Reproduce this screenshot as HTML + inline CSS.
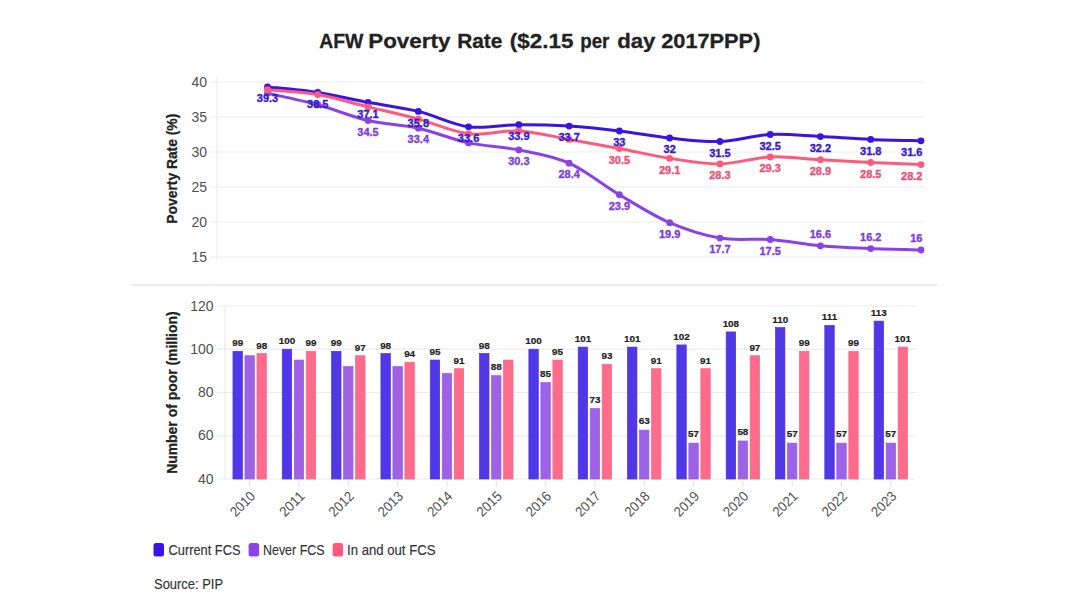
<!DOCTYPE html><html><head><meta charset="utf-8"><style>html,body{margin:0;padding:0;background:#fff;width:1080px;height:614px;overflow:hidden}svg{display:block}text{font-family:"Liberation Sans", sans-serif}</style></head><body>
<svg width="1080" height="614" viewBox="0 0 1080 614">
<rect width="1080" height="614" fill="#fff"/>
<g>
<text x="319.2" y="47.5" font-size="20.5" font-weight="bold" fill="#222" stroke="#222" stroke-width="0.3" textLength="44.2" lengthAdjust="spacingAndGlyphs">AFW</text>
<text x="368.2" y="47.5" font-size="20.5" font-weight="bold" fill="#222" stroke="#222" stroke-width="0.3" textLength="82.2" lengthAdjust="spacingAndGlyphs">Poverty</text>
<text x="457.2" y="47.5" font-size="20.5" font-weight="bold" fill="#222" stroke="#222" stroke-width="0.3" textLength="45.2" lengthAdjust="spacingAndGlyphs">Rate</text>
<text x="509.7" y="47.5" font-size="20.5" font-weight="bold" fill="#222" stroke="#222" stroke-width="0.3" textLength="63.7" lengthAdjust="spacingAndGlyphs">($2.15</text>
<text x="580.2" y="47.5" font-size="20.5" font-weight="bold" fill="#222" stroke="#222" stroke-width="0.3" textLength="29.2" lengthAdjust="spacingAndGlyphs">per</text>
<text x="617.2" y="47.5" font-size="20.5" font-weight="bold" fill="#222" stroke="#222" stroke-width="0.3" textLength="38.2" lengthAdjust="spacingAndGlyphs">day</text>
<text x="661.2" y="47.5" font-size="20.5" font-weight="bold" fill="#222" stroke="#222" stroke-width="0.3" textLength="99.2" lengthAdjust="spacingAndGlyphs">2017PPP)</text>
<line x1="210" y1="82.0" x2="924" y2="82.0" stroke="#ebebeb" stroke-width="1.2"/>
<text x="207" y="87.0" text-anchor="end" font-size="14" fill="#505050">40</text>
<line x1="210" y1="117.0" x2="924" y2="117.0" stroke="#ebebeb" stroke-width="1.2"/>
<text x="207" y="122.0" text-anchor="end" font-size="14" fill="#505050">35</text>
<line x1="210" y1="152.0" x2="924" y2="152.0" stroke="#ebebeb" stroke-width="1.2"/>
<text x="207" y="157.0" text-anchor="end" font-size="14" fill="#505050">30</text>
<line x1="210" y1="187.0" x2="924" y2="187.0" stroke="#ebebeb" stroke-width="1.2"/>
<text x="207" y="192.0" text-anchor="end" font-size="14" fill="#505050">25</text>
<line x1="210" y1="222.0" x2="924" y2="222.0" stroke="#ebebeb" stroke-width="1.2"/>
<text x="207" y="227.0" text-anchor="end" font-size="14" fill="#505050">20</text>
<line x1="210" y1="257.0" x2="924" y2="257.0" stroke="#ebebeb" stroke-width="1.2"/>
<text x="207" y="262.0" text-anchor="end" font-size="14" fill="#505050">15</text>
<line x1="217" y1="77.5" x2="217" y2="260" stroke="#ebebeb" stroke-width="1.2"/>
<text transform="translate(177.4,168.7) rotate(-90)" text-anchor="middle" font-size="14" font-weight="bold" fill="#222" stroke="#222" stroke-width="0.25" textLength="110" lengthAdjust="spacingAndGlyphs">Poverty Rate (%)</text>
<line x1="131" y1="285" x2="937" y2="285" stroke="#e6e6e6" stroke-width="1.5"/>
<path d="M267.50,86.90 C275.88,87.83 301.01,89.93 317.77,92.50 C334.53,95.07 351.28,99.15 368.04,102.30 C384.79,105.45 401.55,107.32 418.31,111.40 C435.06,115.48 451.82,124.58 468.58,126.80 C485.33,129.02 502.09,124.82 518.85,124.70 C535.60,124.58 552.36,125.05 569.12,126.10 C585.87,127.15 602.63,129.02 619.38,131.00 C636.14,132.98 652.90,136.25 669.65,138.00 C686.41,139.75 703.17,142.08 719.92,141.50 C736.68,140.92 753.44,135.32 770.19,134.50 C786.95,133.68 803.71,135.78 820.46,136.60 C837.22,137.42 853.97,138.70 870.73,139.40 C887.49,140.10 912.62,140.57 921.00,140.80" fill="none" stroke="#3a14e6" stroke-width="3" stroke-linecap="round"/>
<circle cx="267.50" cy="86.90" r="3.4" fill="#3a14e6"/>
<circle cx="317.77" cy="92.50" r="3.4" fill="#3a14e6"/>
<circle cx="368.04" cy="102.30" r="3.4" fill="#3a14e6"/>
<circle cx="418.31" cy="111.40" r="3.4" fill="#3a14e6"/>
<circle cx="468.58" cy="126.80" r="3.4" fill="#3a14e6"/>
<circle cx="518.85" cy="124.70" r="3.4" fill="#3a14e6"/>
<circle cx="569.12" cy="126.10" r="3.4" fill="#3a14e6"/>
<circle cx="619.38" cy="131.00" r="3.4" fill="#3a14e6"/>
<circle cx="669.65" cy="138.00" r="3.4" fill="#3a14e6"/>
<circle cx="719.92" cy="141.50" r="3.4" fill="#3a14e6"/>
<circle cx="770.19" cy="134.50" r="3.4" fill="#3a14e6"/>
<circle cx="820.46" cy="136.60" r="3.4" fill="#3a14e6"/>
<circle cx="870.73" cy="139.40" r="3.4" fill="#3a14e6"/>
<circle cx="921.00" cy="140.80" r="3.4" fill="#3a14e6"/>
<path d="M267.50,93.20 C275.88,95.13 301.01,100.20 317.77,104.75 C334.53,109.30 351.28,116.59 368.04,120.50 C384.79,124.41 401.55,124.47 418.31,128.20 C435.06,131.93 451.82,139.28 468.58,142.90 C485.33,146.52 502.09,146.52 518.85,149.90 C535.60,153.28 552.36,155.73 569.12,163.20 C585.87,170.67 602.63,184.78 619.38,194.70 C636.14,204.62 652.90,215.47 669.65,222.70 C686.41,229.93 703.17,235.30 719.92,238.10 C736.68,240.90 753.44,238.22 770.19,239.50 C786.95,240.78 803.71,244.28 820.46,245.80 C837.22,247.32 853.97,247.90 870.73,248.60 C887.49,249.30 912.62,249.77 921.00,250.00" fill="none" stroke="#8a42e6" stroke-width="3" stroke-linecap="round"/>
<circle cx="267.50" cy="93.20" r="3.4" fill="#8a42e6"/>
<circle cx="317.77" cy="104.75" r="3.4" fill="#8a42e6"/>
<circle cx="368.04" cy="120.50" r="3.4" fill="#8a42e6"/>
<circle cx="418.31" cy="128.20" r="3.4" fill="#8a42e6"/>
<circle cx="468.58" cy="142.90" r="3.4" fill="#8a42e6"/>
<circle cx="518.85" cy="149.90" r="3.4" fill="#8a42e6"/>
<circle cx="569.12" cy="163.20" r="3.4" fill="#8a42e6"/>
<circle cx="619.38" cy="194.70" r="3.4" fill="#8a42e6"/>
<circle cx="669.65" cy="222.70" r="3.4" fill="#8a42e6"/>
<circle cx="719.92" cy="238.10" r="3.4" fill="#8a42e6"/>
<circle cx="770.19" cy="239.50" r="3.4" fill="#8a42e6"/>
<circle cx="820.46" cy="245.80" r="3.4" fill="#8a42e6"/>
<circle cx="870.73" cy="248.60" r="3.4" fill="#8a42e6"/>
<circle cx="921.00" cy="250.00" r="3.4" fill="#8a42e6"/>
<path d="M267.50,89.70 C275.88,90.52 301.01,91.74 317.77,94.60 C334.53,97.46 351.28,102.77 368.04,106.85 C384.79,110.93 401.55,114.61 418.31,119.10 C435.06,123.59 451.82,131.82 468.58,133.80 C485.33,135.78 502.09,130.07 518.85,131.00 C535.60,131.93 552.36,136.48 569.12,139.40 C585.87,142.32 602.63,145.35 619.38,148.50 C636.14,151.65 652.90,155.73 669.65,158.30 C686.41,160.87 703.17,164.13 719.92,163.90 C736.68,163.67 753.44,157.60 770.19,156.90 C786.95,156.20 803.71,158.77 820.46,159.70 C837.22,160.63 853.97,161.68 870.73,162.50 C887.49,163.32 912.62,164.25 921.00,164.60" fill="none" stroke="#ff5a7e" stroke-width="3" stroke-linecap="round"/>
<circle cx="267.50" cy="89.70" r="3.4" fill="#ff5a7e"/>
<circle cx="317.77" cy="94.60" r="3.4" fill="#ff5a7e"/>
<circle cx="368.04" cy="106.85" r="3.4" fill="#ff5a7e"/>
<circle cx="418.31" cy="119.10" r="3.4" fill="#ff5a7e"/>
<circle cx="468.58" cy="133.80" r="3.4" fill="#ff5a7e"/>
<circle cx="518.85" cy="131.00" r="3.4" fill="#ff5a7e"/>
<circle cx="569.12" cy="139.40" r="3.4" fill="#ff5a7e"/>
<circle cx="619.38" cy="148.50" r="3.4" fill="#ff5a7e"/>
<circle cx="669.65" cy="158.30" r="3.4" fill="#ff5a7e"/>
<circle cx="719.92" cy="163.90" r="3.4" fill="#ff5a7e"/>
<circle cx="770.19" cy="156.90" r="3.4" fill="#ff5a7e"/>
<circle cx="820.46" cy="159.70" r="3.4" fill="#ff5a7e"/>
<circle cx="870.73" cy="162.50" r="3.4" fill="#ff5a7e"/>
<circle cx="921.00" cy="164.60" r="3.4" fill="#ff5a7e"/>
<text x="267.50" y="102.10" text-anchor="middle" font-size="11" font-weight="bold" fill="#3418d2" stroke="#3418d2" stroke-width="0.35">39.3</text>
<text x="317.77" y="107.70" text-anchor="middle" font-size="11" font-weight="bold" fill="#3418d2" stroke="#3418d2" stroke-width="0.35">38.5</text>
<text x="368.04" y="117.50" text-anchor="middle" font-size="11" font-weight="bold" fill="#3418d2" stroke="#3418d2" stroke-width="0.35">37.1</text>
<text x="418.31" y="126.60" text-anchor="middle" font-size="11" font-weight="bold" fill="#3418d2" stroke="#3418d2" stroke-width="0.35">35.8</text>
<text x="468.58" y="142.00" text-anchor="middle" font-size="11" font-weight="bold" fill="#3418d2" stroke="#3418d2" stroke-width="0.35">33.6</text>
<text x="518.85" y="139.90" text-anchor="middle" font-size="11" font-weight="bold" fill="#3418d2" stroke="#3418d2" stroke-width="0.35">33.9</text>
<text x="569.12" y="141.30" text-anchor="middle" font-size="11" font-weight="bold" fill="#3418d2" stroke="#3418d2" stroke-width="0.35">33.7</text>
<text x="619.38" y="146.20" text-anchor="middle" font-size="11" font-weight="bold" fill="#3418d2" stroke="#3418d2" stroke-width="0.35">33</text>
<text x="669.65" y="153.20" text-anchor="middle" font-size="11" font-weight="bold" fill="#3418d2" stroke="#3418d2" stroke-width="0.35">32</text>
<text x="719.92" y="156.70" text-anchor="middle" font-size="11" font-weight="bold" fill="#3418d2" stroke="#3418d2" stroke-width="0.35">31.5</text>
<text x="770.19" y="149.70" text-anchor="middle" font-size="11" font-weight="bold" fill="#3418d2" stroke="#3418d2" stroke-width="0.35">32.5</text>
<text x="820.46" y="151.80" text-anchor="middle" font-size="11" font-weight="bold" fill="#3418d2" stroke="#3418d2" stroke-width="0.35">32.2</text>
<text x="870.73" y="154.60" text-anchor="middle" font-size="11" font-weight="bold" fill="#3418d2" stroke="#3418d2" stroke-width="0.35">31.8</text>
<text x="922.50" y="156.00" text-anchor="end" font-size="11" font-weight="bold" fill="#3418d2" stroke="#3418d2" stroke-width="0.35">31.6</text>
<text x="368.04" y="135.70" text-anchor="middle" font-size="11" font-weight="bold" fill="#7e3dd8" stroke="#7e3dd8" stroke-width="0.35">34.5</text>
<text x="418.31" y="143.40" text-anchor="middle" font-size="11" font-weight="bold" fill="#7e3dd8" stroke="#7e3dd8" stroke-width="0.35">33.4</text>
<text x="518.85" y="165.10" text-anchor="middle" font-size="11" font-weight="bold" fill="#7e3dd8" stroke="#7e3dd8" stroke-width="0.35">30.3</text>
<text x="569.12" y="178.40" text-anchor="middle" font-size="11" font-weight="bold" fill="#7e3dd8" stroke="#7e3dd8" stroke-width="0.35">28.4</text>
<text x="619.38" y="209.90" text-anchor="middle" font-size="11" font-weight="bold" fill="#7e3dd8" stroke="#7e3dd8" stroke-width="0.35">23.9</text>
<text x="669.65" y="237.90" text-anchor="middle" font-size="11" font-weight="bold" fill="#7e3dd8" stroke="#7e3dd8" stroke-width="0.35">19.9</text>
<text x="719.92" y="253.30" text-anchor="middle" font-size="11" font-weight="bold" fill="#7e3dd8" stroke="#7e3dd8" stroke-width="0.35">17.7</text>
<text x="770.19" y="254.70" text-anchor="middle" font-size="11" font-weight="bold" fill="#7e3dd8" stroke="#7e3dd8" stroke-width="0.35">17.5</text>
<text x="820.46" y="237.80" text-anchor="middle" font-size="11" font-weight="bold" fill="#7e3dd8" stroke="#7e3dd8" stroke-width="0.35">16.6</text>
<text x="870.73" y="240.60" text-anchor="middle" font-size="11" font-weight="bold" fill="#7e3dd8" stroke="#7e3dd8" stroke-width="0.35">16.2</text>
<text x="922.50" y="242.00" text-anchor="end" font-size="11" font-weight="bold" fill="#7e3dd8" stroke="#7e3dd8" stroke-width="0.35">16</text>
<text x="619.38" y="163.70" text-anchor="middle" font-size="11" font-weight="bold" fill="#ec4f76" stroke="#ec4f76" stroke-width="0.35">30.5</text>
<text x="669.65" y="173.50" text-anchor="middle" font-size="11" font-weight="bold" fill="#ec4f76" stroke="#ec4f76" stroke-width="0.35">29.1</text>
<text x="719.92" y="179.10" text-anchor="middle" font-size="11" font-weight="bold" fill="#ec4f76" stroke="#ec4f76" stroke-width="0.35">28.3</text>
<text x="770.19" y="172.10" text-anchor="middle" font-size="11" font-weight="bold" fill="#ec4f76" stroke="#ec4f76" stroke-width="0.35">29.3</text>
<text x="820.46" y="174.90" text-anchor="middle" font-size="11" font-weight="bold" fill="#ec4f76" stroke="#ec4f76" stroke-width="0.35">28.9</text>
<text x="870.73" y="177.70" text-anchor="middle" font-size="11" font-weight="bold" fill="#ec4f76" stroke="#ec4f76" stroke-width="0.35">28.5</text>
<text x="922.50" y="179.80" text-anchor="end" font-size="11" font-weight="bold" fill="#ec4f76" stroke="#ec4f76" stroke-width="0.35">28.2</text>
<line x1="217" y1="306.0" x2="915.5" y2="306.0" stroke="#ebebeb" stroke-width="1.2"/>
<text x="213.5" y="310.5" text-anchor="end" font-size="14" fill="#505050">120</text>
<line x1="217" y1="349.2" x2="915.5" y2="349.2" stroke="#ebebeb" stroke-width="1.2"/>
<text x="213.5" y="353.8" text-anchor="end" font-size="14" fill="#505050">100</text>
<line x1="217" y1="392.5" x2="915.5" y2="392.5" stroke="#ebebeb" stroke-width="1.2"/>
<text x="213.5" y="397.0" text-anchor="end" font-size="14" fill="#505050">80</text>
<line x1="217" y1="435.8" x2="915.5" y2="435.8" stroke="#ebebeb" stroke-width="1.2"/>
<text x="213.5" y="440.2" text-anchor="end" font-size="14" fill="#505050">60</text>
<line x1="217" y1="479.0" x2="915.5" y2="479.0" stroke="#ebebeb" stroke-width="1.2"/>
<text x="213.5" y="483.5" text-anchor="end" font-size="14" fill="#505050">40</text>
<line x1="225" y1="306" x2="225" y2="479" stroke="#ebebeb" stroke-width="1.2"/>
<text transform="translate(177.4,392.6) rotate(-90)" text-anchor="middle" font-size="14" font-weight="bold" fill="#222" stroke="#222" stroke-width="0.25" textLength="162.5" lengthAdjust="spacingAndGlyphs">Number of poor (million)</text>
<rect x="232.96" y="351.41" width="9.4" height="127.59" fill="#5038e6" stroke="#4a2ee6" stroke-width="0.7"/>
<text x="237.66" y="346.41" text-anchor="middle" font-size="9.9" font-weight="bold" fill="#222" stroke="#222" stroke-width="0.2">99</text>
<rect x="244.96" y="355.74" width="9.4" height="123.26" fill="#9d62e6" stroke="#975ae6" stroke-width="0.7"/>
<rect x="256.96" y="353.57" width="9.4" height="125.43" fill="#ff6b8b" stroke="#ff6283" stroke-width="0.7"/>
<text x="261.66" y="348.57" text-anchor="middle" font-size="9.9" font-weight="bold" fill="#222" stroke="#222" stroke-width="0.2">98</text>
<line x1="249.66" y1="480.5" x2="249.66" y2="486.5" stroke="#e0e0e0" stroke-width="1"/>
<text transform="translate(256.16,497) rotate(-45)" text-anchor="end" font-size="14" fill="#505050" textLength="29" lengthAdjust="spacingAndGlyphs">2010</text>
<rect x="282.28" y="349.25" width="9.4" height="129.75" fill="#5038e6" stroke="#4a2ee6" stroke-width="0.7"/>
<text x="286.98" y="344.25" text-anchor="middle" font-size="9.9" font-weight="bold" fill="#222" stroke="#222" stroke-width="0.2">100</text>
<rect x="294.28" y="360.06" width="9.4" height="118.94" fill="#9d62e6" stroke="#975ae6" stroke-width="0.7"/>
<rect x="306.28" y="351.41" width="9.4" height="127.59" fill="#ff6b8b" stroke="#ff6283" stroke-width="0.7"/>
<text x="310.98" y="346.41" text-anchor="middle" font-size="9.9" font-weight="bold" fill="#222" stroke="#222" stroke-width="0.2">99</text>
<line x1="298.98" y1="480.5" x2="298.98" y2="486.5" stroke="#e0e0e0" stroke-width="1"/>
<text transform="translate(305.48,497) rotate(-45)" text-anchor="end" font-size="14" fill="#505050" textLength="29" lengthAdjust="spacingAndGlyphs">2011</text>
<rect x="331.60" y="351.41" width="9.4" height="127.59" fill="#5038e6" stroke="#4a2ee6" stroke-width="0.7"/>
<text x="336.30" y="346.41" text-anchor="middle" font-size="9.9" font-weight="bold" fill="#222" stroke="#222" stroke-width="0.2">99</text>
<rect x="343.60" y="366.55" width="9.4" height="112.45" fill="#9d62e6" stroke="#975ae6" stroke-width="0.7"/>
<rect x="355.60" y="355.74" width="9.4" height="123.26" fill="#ff6b8b" stroke="#ff6283" stroke-width="0.7"/>
<text x="360.30" y="350.74" text-anchor="middle" font-size="9.9" font-weight="bold" fill="#222" stroke="#222" stroke-width="0.2">97</text>
<line x1="348.30" y1="480.5" x2="348.30" y2="486.5" stroke="#e0e0e0" stroke-width="1"/>
<text transform="translate(354.80,497) rotate(-45)" text-anchor="end" font-size="14" fill="#505050" textLength="29" lengthAdjust="spacingAndGlyphs">2012</text>
<rect x="380.93" y="353.57" width="9.4" height="125.43" fill="#5038e6" stroke="#4a2ee6" stroke-width="0.7"/>
<text x="385.62" y="348.57" text-anchor="middle" font-size="9.9" font-weight="bold" fill="#222" stroke="#222" stroke-width="0.2">98</text>
<rect x="392.93" y="366.55" width="9.4" height="112.45" fill="#9d62e6" stroke="#975ae6" stroke-width="0.7"/>
<rect x="404.93" y="362.23" width="9.4" height="116.77" fill="#ff6b8b" stroke="#ff6283" stroke-width="0.7"/>
<text x="409.62" y="357.23" text-anchor="middle" font-size="9.9" font-weight="bold" fill="#222" stroke="#222" stroke-width="0.2">94</text>
<line x1="397.62" y1="480.5" x2="397.62" y2="486.5" stroke="#e0e0e0" stroke-width="1"/>
<text transform="translate(404.12,497) rotate(-45)" text-anchor="end" font-size="14" fill="#505050" textLength="29" lengthAdjust="spacingAndGlyphs">2013</text>
<rect x="430.25" y="360.06" width="9.4" height="118.94" fill="#5038e6" stroke="#4a2ee6" stroke-width="0.7"/>
<text x="434.95" y="355.06" text-anchor="middle" font-size="9.9" font-weight="bold" fill="#222" stroke="#222" stroke-width="0.2">95</text>
<rect x="442.25" y="373.54" width="9.4" height="105.46" fill="#9d62e6" stroke="#975ae6" stroke-width="0.7"/>
<rect x="454.25" y="368.71" width="9.4" height="110.29" fill="#ff6b8b" stroke="#ff6283" stroke-width="0.7"/>
<text x="458.95" y="363.71" text-anchor="middle" font-size="9.9" font-weight="bold" fill="#222" stroke="#222" stroke-width="0.2">91</text>
<line x1="446.95" y1="480.5" x2="446.95" y2="486.5" stroke="#e0e0e0" stroke-width="1"/>
<text transform="translate(453.45,497) rotate(-45)" text-anchor="end" font-size="14" fill="#505050" textLength="29" lengthAdjust="spacingAndGlyphs">2014</text>
<rect x="479.57" y="353.57" width="9.4" height="125.43" fill="#5038e6" stroke="#4a2ee6" stroke-width="0.7"/>
<text x="484.27" y="348.57" text-anchor="middle" font-size="9.9" font-weight="bold" fill="#222" stroke="#222" stroke-width="0.2">98</text>
<rect x="491.57" y="375.70" width="9.4" height="103.30" fill="#9d62e6" stroke="#975ae6" stroke-width="0.7"/>
<text x="496.27" y="370.20" text-anchor="middle" font-size="9.9" font-weight="bold" fill="#222" stroke="#222" stroke-width="0.2">88</text>
<rect x="503.57" y="360.06" width="9.4" height="118.94" fill="#ff6b8b" stroke="#ff6283" stroke-width="0.7"/>
<line x1="496.27" y1="480.5" x2="496.27" y2="486.5" stroke="#e0e0e0" stroke-width="1"/>
<text transform="translate(502.77,497) rotate(-45)" text-anchor="end" font-size="14" fill="#505050" textLength="29" lengthAdjust="spacingAndGlyphs">2015</text>
<rect x="528.89" y="349.25" width="9.4" height="129.75" fill="#5038e6" stroke="#4a2ee6" stroke-width="0.7"/>
<text x="533.59" y="344.25" text-anchor="middle" font-size="9.9" font-weight="bold" fill="#222" stroke="#222" stroke-width="0.2">100</text>
<rect x="540.89" y="382.59" width="9.4" height="96.41" fill="#9d62e6" stroke="#975ae6" stroke-width="0.7"/>
<text x="545.59" y="376.69" text-anchor="middle" font-size="9.9" font-weight="bold" fill="#222" stroke="#222" stroke-width="0.2">85</text>
<rect x="552.89" y="360.06" width="9.4" height="118.94" fill="#ff6b8b" stroke="#ff6283" stroke-width="0.7"/>
<text x="557.59" y="355.06" text-anchor="middle" font-size="9.9" font-weight="bold" fill="#222" stroke="#222" stroke-width="0.2">95</text>
<line x1="545.59" y1="480.5" x2="545.59" y2="486.5" stroke="#e0e0e0" stroke-width="1"/>
<text transform="translate(552.09,497) rotate(-45)" text-anchor="end" font-size="14" fill="#505050" textLength="29" lengthAdjust="spacingAndGlyphs">2016</text>
<rect x="578.21" y="347.09" width="9.4" height="131.91" fill="#5038e6" stroke="#4a2ee6" stroke-width="0.7"/>
<text x="582.91" y="342.09" text-anchor="middle" font-size="9.9" font-weight="bold" fill="#222" stroke="#222" stroke-width="0.2">101</text>
<rect x="590.21" y="408.54" width="9.4" height="70.46" fill="#9d62e6" stroke="#975ae6" stroke-width="0.7"/>
<text x="594.91" y="402.64" text-anchor="middle" font-size="9.9" font-weight="bold" fill="#222" stroke="#222" stroke-width="0.2">73</text>
<rect x="602.21" y="364.39" width="9.4" height="114.61" fill="#ff6b8b" stroke="#ff6283" stroke-width="0.7"/>
<text x="606.91" y="359.39" text-anchor="middle" font-size="9.9" font-weight="bold" fill="#222" stroke="#222" stroke-width="0.2">93</text>
<line x1="594.91" y1="480.5" x2="594.91" y2="486.5" stroke="#e0e0e0" stroke-width="1"/>
<text transform="translate(601.41,497) rotate(-45)" text-anchor="end" font-size="14" fill="#505050" textLength="29" lengthAdjust="spacingAndGlyphs">2017</text>
<rect x="627.53" y="347.09" width="9.4" height="131.91" fill="#5038e6" stroke="#4a2ee6" stroke-width="0.7"/>
<text x="632.23" y="342.09" text-anchor="middle" font-size="9.9" font-weight="bold" fill="#222" stroke="#222" stroke-width="0.2">101</text>
<rect x="639.53" y="430.16" width="9.4" height="48.84" fill="#9d62e6" stroke="#975ae6" stroke-width="0.7"/>
<text x="644.23" y="424.26" text-anchor="middle" font-size="9.9" font-weight="bold" fill="#222" stroke="#222" stroke-width="0.2">63</text>
<rect x="651.53" y="368.71" width="9.4" height="110.29" fill="#ff6b8b" stroke="#ff6283" stroke-width="0.7"/>
<text x="656.23" y="363.71" text-anchor="middle" font-size="9.9" font-weight="bold" fill="#222" stroke="#222" stroke-width="0.2">91</text>
<line x1="644.23" y1="480.5" x2="644.23" y2="486.5" stroke="#e0e0e0" stroke-width="1"/>
<text transform="translate(650.73,497) rotate(-45)" text-anchor="end" font-size="14" fill="#505050" textLength="29" lengthAdjust="spacingAndGlyphs">2018</text>
<rect x="676.85" y="344.93" width="9.4" height="134.07" fill="#5038e6" stroke="#4a2ee6" stroke-width="0.7"/>
<text x="681.55" y="339.93" text-anchor="middle" font-size="9.9" font-weight="bold" fill="#222" stroke="#222" stroke-width="0.2">102</text>
<rect x="688.85" y="443.14" width="9.4" height="35.86" fill="#9d62e6" stroke="#975ae6" stroke-width="0.7"/>
<text x="693.55" y="437.24" text-anchor="middle" font-size="9.9" font-weight="bold" fill="#222" stroke="#222" stroke-width="0.2">57</text>
<rect x="700.85" y="368.71" width="9.4" height="110.29" fill="#ff6b8b" stroke="#ff6283" stroke-width="0.7"/>
<text x="705.55" y="363.71" text-anchor="middle" font-size="9.9" font-weight="bold" fill="#222" stroke="#222" stroke-width="0.2">91</text>
<line x1="693.55" y1="480.5" x2="693.55" y2="486.5" stroke="#e0e0e0" stroke-width="1"/>
<text transform="translate(700.05,497) rotate(-45)" text-anchor="end" font-size="14" fill="#505050" textLength="29" lengthAdjust="spacingAndGlyphs">2019</text>
<rect x="726.17" y="331.95" width="9.4" height="147.05" fill="#5038e6" stroke="#4a2ee6" stroke-width="0.7"/>
<text x="730.88" y="326.95" text-anchor="middle" font-size="9.9" font-weight="bold" fill="#222" stroke="#222" stroke-width="0.2">108</text>
<rect x="738.17" y="440.97" width="9.4" height="38.03" fill="#9d62e6" stroke="#975ae6" stroke-width="0.7"/>
<text x="742.88" y="435.07" text-anchor="middle" font-size="9.9" font-weight="bold" fill="#222" stroke="#222" stroke-width="0.2">58</text>
<rect x="750.17" y="355.74" width="9.4" height="123.26" fill="#ff6b8b" stroke="#ff6283" stroke-width="0.7"/>
<text x="754.88" y="350.74" text-anchor="middle" font-size="9.9" font-weight="bold" fill="#222" stroke="#222" stroke-width="0.2">97</text>
<line x1="742.88" y1="480.5" x2="742.88" y2="486.5" stroke="#e0e0e0" stroke-width="1"/>
<text transform="translate(749.38,497) rotate(-45)" text-anchor="end" font-size="14" fill="#505050" textLength="29" lengthAdjust="spacingAndGlyphs">2020</text>
<rect x="775.50" y="327.62" width="9.4" height="151.38" fill="#5038e6" stroke="#4a2ee6" stroke-width="0.7"/>
<text x="780.20" y="322.62" text-anchor="middle" font-size="9.9" font-weight="bold" fill="#222" stroke="#222" stroke-width="0.2">110</text>
<rect x="787.50" y="443.14" width="9.4" height="35.86" fill="#9d62e6" stroke="#975ae6" stroke-width="0.7"/>
<text x="792.20" y="437.24" text-anchor="middle" font-size="9.9" font-weight="bold" fill="#222" stroke="#222" stroke-width="0.2">57</text>
<rect x="799.50" y="351.41" width="9.4" height="127.59" fill="#ff6b8b" stroke="#ff6283" stroke-width="0.7"/>
<text x="804.20" y="346.41" text-anchor="middle" font-size="9.9" font-weight="bold" fill="#222" stroke="#222" stroke-width="0.2">99</text>
<line x1="792.20" y1="480.5" x2="792.20" y2="486.5" stroke="#e0e0e0" stroke-width="1"/>
<text transform="translate(798.70,497) rotate(-45)" text-anchor="end" font-size="14" fill="#505050" textLength="29" lengthAdjust="spacingAndGlyphs">2021</text>
<rect x="824.82" y="325.46" width="9.4" height="153.54" fill="#5038e6" stroke="#4a2ee6" stroke-width="0.7"/>
<text x="829.52" y="320.46" text-anchor="middle" font-size="9.9" font-weight="bold" fill="#222" stroke="#222" stroke-width="0.2">111</text>
<rect x="836.82" y="443.14" width="9.4" height="35.86" fill="#9d62e6" stroke="#975ae6" stroke-width="0.7"/>
<text x="841.52" y="437.24" text-anchor="middle" font-size="9.9" font-weight="bold" fill="#222" stroke="#222" stroke-width="0.2">57</text>
<rect x="848.82" y="351.41" width="9.4" height="127.59" fill="#ff6b8b" stroke="#ff6283" stroke-width="0.7"/>
<text x="853.52" y="346.41" text-anchor="middle" font-size="9.9" font-weight="bold" fill="#222" stroke="#222" stroke-width="0.2">99</text>
<line x1="841.52" y1="480.5" x2="841.52" y2="486.5" stroke="#e0e0e0" stroke-width="1"/>
<text transform="translate(848.02,497) rotate(-45)" text-anchor="end" font-size="14" fill="#505050" textLength="29" lengthAdjust="spacingAndGlyphs">2022</text>
<rect x="874.14" y="321.14" width="9.4" height="157.86" fill="#5038e6" stroke="#4a2ee6" stroke-width="0.7"/>
<text x="878.84" y="316.14" text-anchor="middle" font-size="9.9" font-weight="bold" fill="#222" stroke="#222" stroke-width="0.2">113</text>
<rect x="886.14" y="443.14" width="9.4" height="35.86" fill="#9d62e6" stroke="#975ae6" stroke-width="0.7"/>
<text x="890.84" y="437.24" text-anchor="middle" font-size="9.9" font-weight="bold" fill="#222" stroke="#222" stroke-width="0.2">57</text>
<rect x="898.14" y="347.09" width="9.4" height="131.91" fill="#ff6b8b" stroke="#ff6283" stroke-width="0.7"/>
<text x="902.84" y="342.09" text-anchor="middle" font-size="9.9" font-weight="bold" fill="#222" stroke="#222" stroke-width="0.2">101</text>
<line x1="890.84" y1="480.5" x2="890.84" y2="486.5" stroke="#e0e0e0" stroke-width="1"/>
<text transform="translate(897.34,497) rotate(-45)" text-anchor="end" font-size="14" fill="#505050" textLength="29" lengthAdjust="spacingAndGlyphs">2023</text>
<rect x="153.5" y="543" width="10.5" height="13.5" rx="2.5" fill="#3a14e6"/>
<text x="168.5" y="554.5" font-size="14" fill="#333" stroke="#333" stroke-width="0.15" textLength="72.0" lengthAdjust="spacingAndGlyphs">Current FCS</text>
<rect x="248.6" y="543" width="10.5" height="13.5" rx="2.5" fill="#8a42e6"/>
<text x="263.0" y="554.5" font-size="14" fill="#333" stroke="#333" stroke-width="0.15" textLength="61.5" lengthAdjust="spacingAndGlyphs">Never FCS</text>
<rect x="332.6" y="543" width="10.5" height="13.5" rx="2.5" fill="#ff5a7e"/>
<text x="347.0" y="554.5" font-size="14" fill="#333" stroke="#333" stroke-width="0.15" textLength="88.5" lengthAdjust="spacingAndGlyphs">In and out FCS</text>
<text x="154" y="588.5" font-size="14" fill="#333" stroke="#333" stroke-width="0.15" textLength="69" lengthAdjust="spacingAndGlyphs">Source: PIP</text>
</g></svg></body></html>
